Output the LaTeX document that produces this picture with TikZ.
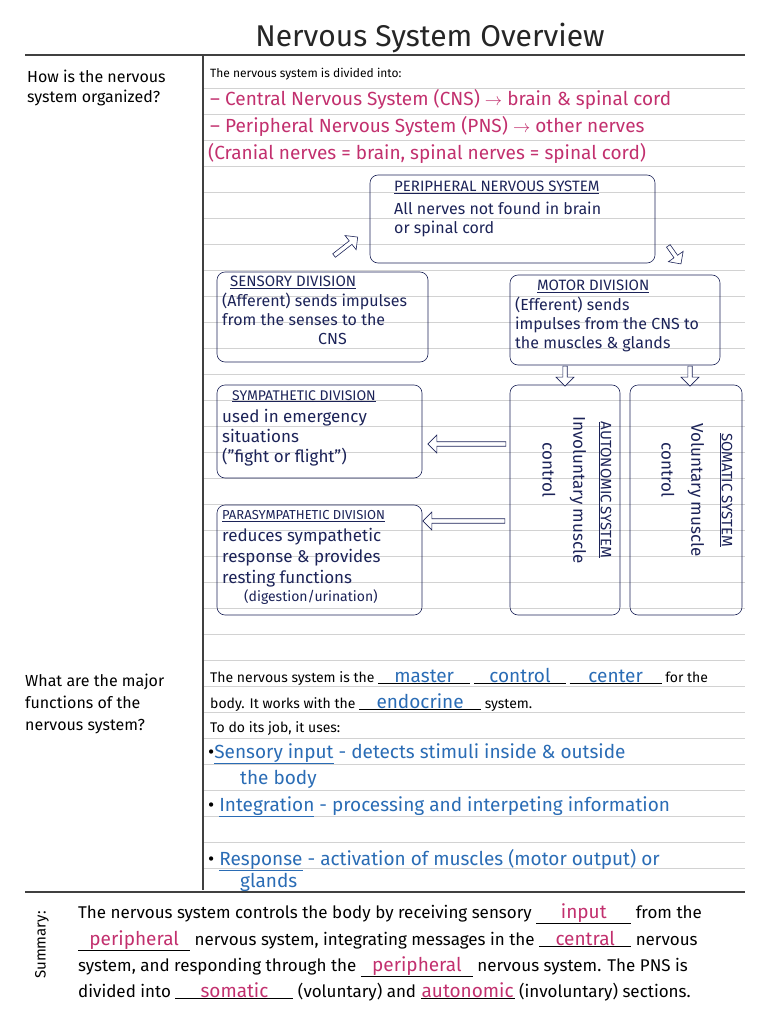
\documentclass[tikz,border=0pt]{standalone}
\usepackage{fontspec}
\setmainfont{Fira Sans}
\usetikzlibrary{shapes.arrows}
\definecolor{pk}{HTML}{C2306E}
\definecolor{bl}{HTML}{2A6CB5}
\definecolor{nv}{HTML}{1C2358}
\newcommand\fs[1]{\fontsize{#1}{#1}\selectfont}
\newcommand\fillin[3]{\underline{\makebox[#1]{\textcolor{#2}{#3}}}}
\tikzset{
 txt/.style={anchor=base west,inner sep=0pt,font=\fs{14}},
 ptxt/.style={txt,text=pk,font=\fs{19}},
 btxt/.style={txt,text=bl,font=\fs{19}},
 box/.style={draw=nv,semithick,rounded corners=8pt},
 btx/.style={anchor=north west,text=nv,align=left,inner sep=0pt,font=\fs{16}},
 harr/.style={single arrow,draw=nv,fill=white,minimum height=32pt,minimum width=18pt,single arrow head extend=4pt,inner sep=1pt,semithick},
 rule/.style={gray!35,thin}
}
\begin{document}
\begin{tikzpicture}[x=1pt,y=-1pt]
\useasboundingbox (0,0) rectangle (768,1024);
% rules
\foreach \y in {88,114,140,166,192,218,244,270,296,322,348,374,400,426,452,478,504,530,556,582,608,634,660,686,712,738,764,790,816,842,868}
  \draw[rule] (203,\y) -- (745,\y);
\node[anchor=base,font=\fs{30},text=black!85] (title) at (430,47) {Nervous System Overview};
\draw[line width=2pt,black!75] (25,55) -- (745,55);
\draw[line width=2pt,black!75] (203,55) -- (203,890);
\draw[line width=2pt,black!75] (25,892) -- (745,892);
\node[anchor=north west,align=left,font=\fs{16},inner sep=0pt] (q1) at (27,70) {How is the nervous\\[4pt]system organized?};
\node[anchor=north west,align=left,font=\fs{16},inner sep=0pt] (q2) at (25,674) {What are the major\\[6pt]functions of the\\[6pt]nervous system?};
% top text
\node[txt,font=\fs{12}] (t1) at (210,78) {The nervous system is divided into:};
\node[ptxt] (t2) at (210,106) {– Central Nervous System (CNS) $\rightarrow$ brain \& spinal cord};
\node[ptxt] (t3) at (210,133) {– Peripheral Nervous System (PNS) $\rightarrow$ other nerves};
\node[ptxt] (t4) at (208,160) {(Cranial nerves = brain, spinal nerves = spinal cord)};
% boxes
\draw[box] (370,175) rectangle (655,263);
\node[btx,font=\fs{15}] (pns) at (394,181) {\underline{PERIPHERAL NERVOUS SYSTEM}\\[8pt]{\fs{16}All nerves not found in brain}\\[4pt]{\fs{16}or spinal cord}};
\draw[box] (217,272) rectangle (428,362);
\node[btx] (sen) at (222,276) {\hspace*{8pt}{\fs{15}\underline{SENSORY DIVISION}}\\[4pt](Afferent) sends impulses\\[3pt]from the senses to the\\[3pt]\hspace*{96pt}CNS};
\draw[box] (510,275) rectangle (720,365);
\node[btx] (mot) at (515,280) {\hspace*{22pt}{\fs{15}\underline{MOTOR DIVISION}}\\[4pt](Efferent) sends\\[3pt]impulses from the CNS to\\[3pt]the muscles \& glands};
\draw[box] (217,385) rectangle (422,478);
\node[btx,font=\fs{17}] (sym) at (222,390) {\hspace*{10pt}{\fs{14}\underline{SYMPATHETIC DIVISION}}\\[5pt]used in emergency\\[3pt]situations\\[3pt]("fight or flight")};
\draw[box] (217,505) rectangle (422,615);
\node[btx,font=\fs{13}] (par) at (222,510) {\underline{PARASYMPATHETIC DIVISION}\\[6pt]{\fs{17}reduces sympathetic}\\[3pt]{\fs{17}response \& provides}\\[3pt]{\fs{17}resting functions}\\[2pt]\hspace*{22pt}{\fs{14}(digestion/urination)}};
\draw[box] (510,385) rectangle (620,615);
\node[rotate=-90,text=nv,font=\fs{15}] (aut1) at (605,490) {\underline{AUTONOMIC SYSTEM}};
\node[rotate=-90,text=nv,font=\fs{17}] (aut2) at (578,490) {Involuntary muscle};
\node[rotate=-90,text=nv,font=\fs{17}] (aut3) at (549,470) {control};
\draw[box] (630,385) rectangle (742,615);
\node[rotate=-90,text=nv,font=\fs{15}] (som1) at (726,490) {\underline{SOMATIC SYSTEM}};
\node[rotate=-90,text=nv,font=\fs{17}] (som2) at (696,490) {Voluntary muscle};
\node[rotate=-90,text=nv,font=\fs{17}] (som3) at (668,470) {control};
% arrows
\node[harr,rotate=38,minimum height=30pt] (a1) at (345,247) {};
\node[harr,rotate=-55,minimum height=22pt] (a2) at (674,254) {};
\node[harr,rotate=-90,minimum height=20pt] (a3) at (565,375) {};
\node[harr,rotate=-90,minimum height=20pt] (a4) at (690,375) {};
\node[harr,rotate=180,minimum height=78pt] (a5) at (468,444) {};
\node[harr,rotate=180,minimum height=82pt] (a6) at (465,521) {};
% functions
\node[txt] (f1) at (210,682) {The nervous system is the \fillin{92pt}{bl}{\fs{19}master} \fillin{92pt}{bl}{\fs{19}control} \fillin{92pt}{bl}{\fs{19}center} for the};
\node[txt] (f2) at (210,708) {body. It works with the \fillin{122pt}{bl}{\fs{19}endocrine} system.};
\node[txt] (f3) at (210,732) {To do its job, it uses:};
\node[btxt] (f4) at (208,758) {\textcolor{black}{•}\underline{Sensory input} - detects stimuli inside \& outside};
\node[btxt] (f5) at (240,784) {the body};
\node[btxt] (f6) at (208,811) {\textcolor{black}{•} \underline{Integration} - processing and interpeting information};
\node[btxt] (f7) at (208,865) {\textcolor{black}{•} \underline{Response} - activation of muscles (motor output) or};
\node[btxt] (f8) at (240,887) {glands};
% summary
\node[rotate=90,font=\fs{15}] (sum) at (42,945) {Summary:};
\node[txt,font=\fs{17}] (s1) at (78,918) {The nervous system controls the body by receiving sensory \fillin{95pt}{pk}{\fs{19}input} from the};
\node[txt,font=\fs{17}] (s2) at (78,945) {\fillin{112pt}{pk}{\fs{19}peripheral} nervous system, integrating messages in the \fillin{92pt}{pk}{\fs{19}central} nervous};
\node[txt,font=\fs{17}] (s3) at (78,971) {system, and responding through the \fillin{112pt}{pk}{\fs{19}peripheral} nervous system. The PNS is};
\node[txt,font=\fs{17}] (s4) at (78,997) {divided into \fillin{118pt}{pk}{\fs{19}somatic} (voluntary) and \fillin{94pt}{pk}{\fs{19}autonomic} (involuntary) sections.};
\end{tikzpicture}
\end{document}
